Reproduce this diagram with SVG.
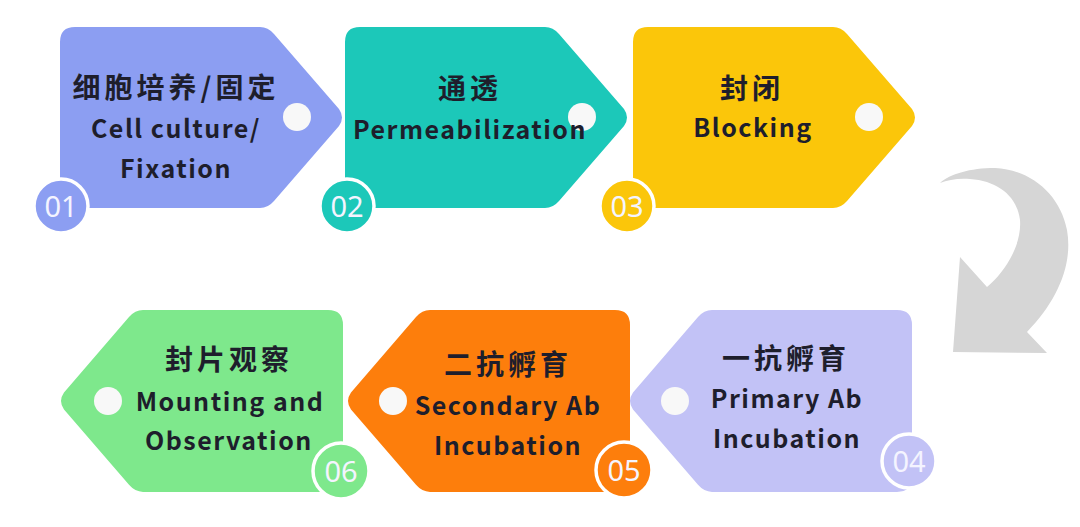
<svg xmlns="http://www.w3.org/2000/svg" xmlns:xlink="http://www.w3.org/1999/xlink" width="1080" height="527" viewBox="0 0 1080 527">
  <style>
    .zh { font-family: "Noto Sans CJK SC", "Noto Sans", sans-serif; font-weight: 700; font-size: 28px; letter-spacing: 4px; fill: #1e1e2c; text-anchor: middle; }
    .en { font-family: "Noto Sans CJK SC", "Noto Sans", sans-serif; font-weight: 700; font-size: 25px; letter-spacing: 1.5px; fill: #1e1e2c; text-anchor: middle; }
    .num { font-family: "Noto Sans", "Open Sans", sans-serif; font-weight: 400; font-size: 29px; fill: #f4f4ff; text-anchor: middle; }
    .hole { fill: #f8f8f8; }
    .badge { stroke: #ffffff; stroke-width: 3.5; }
  </style>
  <defs>
    <path id="tag" d="M 15 0 H 200 Q 208 0 214 7 L 279 82 Q 285 90.5 279 99 L 214 174 Q 208 181 200 181 H 15 Q 0 181 0 166 V 15 Q 0 0 15 0 Z"/>
  </defs>
  <rect width="1080" height="527" fill="#ffffff"/>

  <g id="connectors">
    <path d="M 953 352 L 960 257 L 987 287 C 1005 272 1022 245 1020 220 C 1017 196 998 181 970 179 C 958 178 948 180 940 183 C 950 174 970 168 995 168 C 1032 170 1060 195 1067 230 C 1073 264 1058 300 1027 332 L 1047 353 Z" fill="#d6d6d6"/>
  </g>

  <g id="node1">
    <use xlink:href="#tag" href="#tag" transform="translate(60,27)" fill="#8c9ef2"/>
    <circle class="hole" cx="297" cy="117" r="14"/>
    <text class="zh" x="176" y="98">细胞培养/固定</text>
    <text class="en" x="176" y="138">Cell culture/</text>
    <text class="en" x="176" y="178">Fixation</text>
    <circle class="badge" cx="61" cy="206" r="27" fill="#8c9ef2"/>
    <text class="num" x="61" y="217">01</text>
  </g>

  <g id="node2">
    <use xlink:href="#tag" href="#tag" transform="translate(345,27)" fill="#1cc8b9"/>
    <circle class="hole" cx="582" cy="117" r="14"/>
    <text class="zh" x="470" y="99">通透</text>
    <text class="en" x="470" y="139">Permeabilization</text>
    <circle class="badge" cx="347" cy="206" r="27" fill="#1cc8b9"/>
    <text class="num" x="347" y="217">02</text>
  </g>

  <g id="node3">
    <use xlink:href="#tag" href="#tag" transform="translate(633,27)" fill="#fbc60a"/>
    <circle class="hole" cx="869" cy="117" r="14"/>
    <text class="zh" x="752" y="99">封闭</text>
    <text class="en" x="753" y="137">Blocking</text>
    <circle class="badge" cx="627" cy="206" r="27" fill="#fbc60a"/>
    <text class="num" x="627" y="217">03</text>
  </g>

  <g id="node4">
    <use xlink:href="#tag" href="#tag" transform="translate(912,310) scale(-1,1.005)" fill="#c2c2f6"/>
    <circle class="hole" cx="675" cy="401" r="14"/>
    <text class="zh" x="786" y="369">一抗孵育</text>
    <text class="en" x="787" y="408">Primary Ab</text>
    <text class="en" x="787" y="448">Incubation</text>
    <circle class="badge" cx="909" cy="461" r="27" fill="#c2c2f6"/>
    <text class="num" x="909" y="472">04</text>
  </g>

  <g id="node5">
    <use xlink:href="#tag" href="#tag" transform="translate(630,310) scale(-1,1.005)" fill="#fd7e0c"/>
    <circle class="hole" cx="393" cy="401" r="14"/>
    <text class="zh" x="508" y="375">二抗孵育</text>
    <text class="en" x="508" y="415">Secondary Ab</text>
    <text class="en" x="508" y="455">Incubation</text>
    <circle class="badge" cx="624" cy="470" r="28" fill="#fd7e0c"/>
    <text class="num" x="624" y="481">05</text>
  </g>

  <g id="node6">
    <use xlink:href="#tag" href="#tag" transform="translate(343,310) scale(-1,1.005)" fill="#7ee88c"/>
    <circle class="hole" cx="108" cy="401" r="14"/>
    <text class="zh" x="229" y="370">封片观察</text>
    <text class="en" x="230" y="411">Mounting and</text>
    <text class="en" x="229" y="450">Observation</text>
    <circle class="badge" cx="341" cy="471" r="28" fill="#7ee88c"/>
    <text class="num" x="341" y="482">06</text>
  </g>
</svg>
